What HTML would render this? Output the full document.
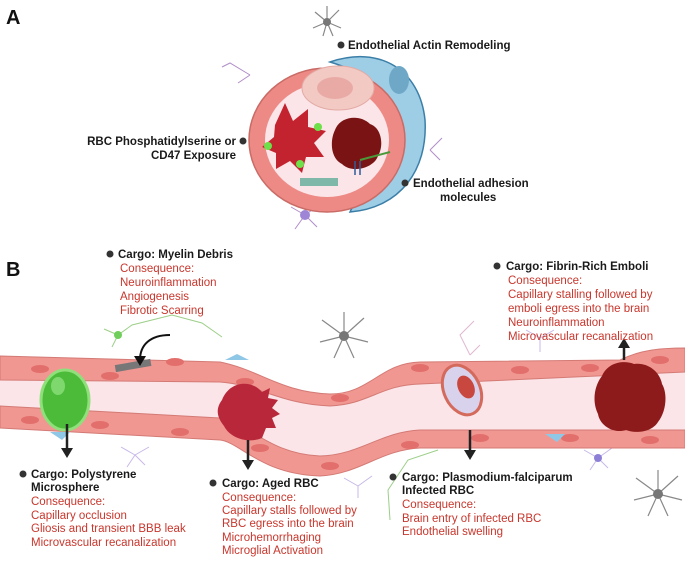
<!DOCTYPE html>
<html><head><meta charset="utf-8"><style>
html,body{margin:0;padding:0;background:#fff;}
svg{display:block;}
text{font-family:"Liberation Sans",sans-serif;}
.b{font-weight:bold;font-size:11.5px;fill:#1a1a1a;}
.r{font-size:11.5px;fill:#c8372d;}
</style></head><body>
<svg width="685" height="565" viewBox="0 0 685 565" xmlns="http://www.w3.org/2000/svg">
<text x="6" y="24" font-size="20" font-weight="bold" fill="#111">A</text>
<text x="6" y="276" font-size="20" font-weight="bold" fill="#111">B</text>

<g stroke="#888" stroke-width="1.2" fill="none">
<path d="M327 22 l-12 -10 M327 22 l12 -12 M327 22 l-14 6 M327 22 l14 6 M327 22 l-4 14 M327 22 l6 14 M327 22 l0 -16"/>
</g>
<circle cx="327" cy="22" r="4" fill="#777"/>
<g stroke="#b08ec8" stroke-width="1" fill="none">
<path d="M305 215 l-14 -8 M305 215 l14 -10 M305 215 l-10 14 M305 215 l12 12 M305 215 l0 -14"/>
<path d="M250 75 l-20 -12 l-8 4 M250 75 l-12 8 M430 150 l12 -12 M430 150 l10 10"/>
</g>
<circle cx="305" cy="215" r="5" fill="#9f85d6"/>

<path d="M330 62 C380 45 420 70 425 120 C428 170 400 208 350 212 C360 190 390 150 385 110 C380 80 350 68 330 62Z" fill="#9ecde6" stroke="#3b7fa8" stroke-width="1.5"/>
<ellipse cx="399" cy="80" rx="10" ry="14" fill="#6fa8c7"/>
<ellipse cx="327" cy="140" rx="78" ry="72" fill="#ee8a85" stroke="#c96b66" stroke-width="1.5"/>
<ellipse cx="327" cy="140" rx="62" ry="57" fill="#fbe5e8"/>
<ellipse cx="338" cy="88" rx="36" ry="22" fill="#f3c9c4" stroke="#e3aaa4"/>
<ellipse cx="335" cy="88" rx="18" ry="11" fill="#e9aaa5"/>
<path d="M275 125 l10 -22 l8 18 l15 -12 l0 18 l18 4 l-12 12 l10 14 l-18 0 l-4 16 l-12 -12 l-14 8 l0 -16 l-14 -6 l12 -10z" fill="#c3232f"/>
<path d="M335 130 c5 -14 25 -16 35 -6 c12 4 14 22 8 32 c-4 12 -26 18 -36 8 c-12 -6 -12 -24 -7 -34z" fill="#7a1414"/>
<circle cx="268" cy="146" r="4" fill="#6ee04a"/><circle cx="318" cy="127" r="4" fill="#6ee04a"/><circle cx="300" cy="164" r="4" fill="#6ee04a"/>
<rect x="300" y="178" width="38" height="8" fill="#7fb8a9"/>
<path d="M360 160 l30 -8" stroke="#4a9a3a" stroke-width="2"/>
<path d="M355 175 l0 -14 M360 175 l0 -14" stroke="#2f5d9a" stroke-width="1.5"/>
<circle cx="341" cy="45" r="3.5" fill="#333"/>
<text class="b" x="348" y="49">Endothelial Actin Remodeling</text>
<text class="b" x="236" y="145" text-anchor="end">RBC Phosphatidylserine or</text>
<text class="b" x="236" y="159" text-anchor="end">CD47 Exposure</text>
<circle cx="243" cy="141" r="3.5" fill="#333"/>
<circle cx="405" cy="183" r="3.5" fill="#333"/>
<text class="b" x="413" y="187">Endothelial adhesion</text>
<text class="b" x="440" y="201">molecules</text>

<g stroke="#888" stroke-width="1.2" fill="none">
<path d="M344 336 l-22 -16 M344 336 l20 -18 M344 336 l-24 6 M344 336 l24 6 M344 336 l-10 22 M344 336 l10 22 M344 336 l0 -24"/>
<path d="M658 494 l-22 -16 M658 494 l20 -18 M658 494 l-24 6 M658 494 l24 6 M658 494 l-10 22 M658 494 l10 22 M658 494 l0 -24"/>
</g>
<circle cx="344" cy="336" r="5" fill="#777"/><circle cx="658" cy="494" r="5" fill="#777"/>
<g stroke="#9ccf88" stroke-width="1" fill="none">
<path d="M118 335 l-14 -6 M118 335 l14 -10 l40 -10 l30 8 l20 14 M118 335 l-6 12 M390 520 l-2 -30 l20 -30 l30 -10"/>
</g>
<circle cx="118" cy="335" r="4" fill="#6fcf5a"/>
<g stroke="#c8b8e8" stroke-width="1" fill="none">
<path d="M135 455 l-14 -8 M135 455 l14 -8 M135 455 l-8 12 M135 455 l10 10 M358 486 l-14 -8 M358 486 l14 -10 M358 486 l0 12 M598 458 l-14 -8 M598 458 l14 -10 M598 458 l-8 12 M598 458 l10 10 M540 338 l-14 -8 M540 338 l14 -8 M540 338 l0 14"/>
<path d="M470 355 l-10 -20 l14 -14 M470 355 l10 -10" stroke="#e0b8d0"/>
</g>
<circle cx="598" cy="458" r="4" fill="#8d7fd6"/>

<path d="M0 378 L220 380 C260 385 280 402 330 404 C370 404 380 385 420 384 L685 372 L685 432 L420 432 C380 432 360 455 320 456 C270 455 250 424 220 420 L0 408Z" fill="#fbe5e8"/>
<path d="M0 356 L220 362 C260 370 280 392 330 394 C370 394 380 363 420 362 L620 360 C640 350 660 348 685 348 L685 372 L420 384 C380 385 370 404 330 406 C280 404 260 385 220 382 L0 380Z" fill="#f19792" stroke="#d47a75" stroke-width="1"/>
<path d="M0 406 L220 418 C250 424 270 454 320 456 C360 455 380 432 420 430 L685 430 L685 448 L420 448 C380 450 360 474 320 476 C260 474 240 442 220 440 L0 428Z" fill="#f19792" stroke="#d47a75" stroke-width="1"/>
<g fill="#e26f6c">
<ellipse cx="40" cy="369" rx="9" ry="4"/><ellipse cx="110" cy="376" rx="9" ry="4"/><ellipse cx="175" cy="362" rx="9" ry="4"/><ellipse cx="245" cy="382" rx="9" ry="4"/><ellipse cx="340" cy="398" rx="9" ry="4"/><ellipse cx="420" cy="368" rx="9" ry="4"/><ellipse cx="520" cy="370" rx="9" ry="4"/><ellipse cx="590" cy="368" rx="9" ry="4"/><ellipse cx="660" cy="360" rx="9" ry="4"/>
<ellipse cx="30" cy="420" rx="9" ry="4"/><ellipse cx="100" cy="425" rx="9" ry="4"/><ellipse cx="180" cy="432" rx="9" ry="4"/><ellipse cx="260" cy="448" rx="9" ry="4"/><ellipse cx="330" cy="466" rx="9" ry="4"/><ellipse cx="410" cy="445" rx="9" ry="4"/><ellipse cx="480" cy="438" rx="9" ry="4"/><ellipse cx="570" cy="438" rx="9" ry="4"/><ellipse cx="650" cy="440" rx="9" ry="4"/>
</g>
<path d="M225 360 l12 -6 l12 6z M50 432 l20 0 l-8 8z M545 434 l20 0 l-8 8z" fill="#8fc7e6"/>
<rect x="115" y="362" width="36" height="7" fill="#777" transform="rotate(-10 133 365)"/>
<path d="M170 335 C150 335 140 345 140 360" stroke="#111" stroke-width="2" fill="none"/>
<path d="M134 356 l6 10 l6 -10z" fill="#111"/>
<ellipse cx="65" cy="400" rx="24" ry="30" fill="#4cbb3a" stroke="#8fe07a" stroke-width="3"/>
<ellipse cx="58" cy="386" rx="7" ry="9" fill="#7fd86e"/>
<path d="M222 400 c8 -20 30 -20 40 -8 l8 -4 l-2 10 l10 2 l-6 8 l8 6 l-8 4 l4 10 l-10 0 l-4 10 c-14 6 -32 0 -38 -12 c-8 -10 -8 -18 -2 -26z" fill="#b8283a"/>
<ellipse cx="462" cy="390" rx="18" ry="26" fill="#d9d2ec" stroke="#d46a5c" stroke-width="3" transform="rotate(-25 462 390)"/>
<ellipse cx="466" cy="387" rx="8" ry="12" fill="#c8473e" transform="rotate(-25 466 387)"/>
<path d="M602 376 c6 -14 22 -16 32 -12 c14 -2 26 8 28 20 c6 10 4 28 -4 38 c-6 10 -22 12 -32 8 c-12 4 -26 -4 -28 -16 c-6 -12 -4 -28 4 -38z" fill="#8e1b1b"/>
<g stroke="#222" stroke-width="2.5">
<line x1="67" y1="424" x2="67" y2="450"/><line x1="248" y1="440" x2="248" y2="462"/><line x1="470" y1="430" x2="470" y2="452"/><line x1="624" y1="360" x2="624" y2="346"/>
</g>
<g fill="#222">
<path d="M61 448 l12 0 l-6 10z M242 460 l12 0 l-6 10z M464 450 l12 0 l-6 10z M618 348 l12 0 l-6 -10z"/>
</g>

<circle cx="110" cy="254" r="3.5" fill="#333"/>
<text class="b" x="118" y="258">Cargo: Myelin Debris</text>
<text class="r" x="120" y="272">Consequence:</text>
<text class="r" x="120" y="286">Neuroinflammation</text>
<text class="r" x="120" y="300">Angiogenesis</text>
<text class="r" x="120" y="314">Fibrotic Scarring</text>

<circle cx="497" cy="266" r="3.5" fill="#333"/>
<text class="b" x="506" y="270">Cargo: Fibrin-Rich Emboli</text>
<text class="r" x="508" y="284">Consequence:</text>
<text class="r" x="508" y="298">Capillary stalling followed by</text>
<text class="r" x="508" y="312">emboli egress into the brain</text>
<text class="r" x="508" y="326">Neuroinflammation</text>
<text class="r" x="508" y="340">Microvascular recanalization</text>

<circle cx="23" cy="474" r="3.5" fill="#333"/>
<text class="b" x="31" y="478">Cargo: Polystyrene</text>
<text class="b" x="31" y="491">Microsphere</text>
<text class="r" x="31" y="505">Consequence:</text>
<text class="r" x="31" y="519">Capillary occlusion</text>
<text class="r" x="31" y="532">Gliosis and transient BBB leak</text>
<text class="r" x="31" y="546">Microvascular recanalization</text>

<circle cx="213" cy="483" r="3.5" fill="#333"/>
<text class="b" x="222" y="487">Cargo: Aged RBC</text>
<text class="r" x="222" y="501">Consequence:</text>
<text class="r" x="222" y="514">Capillary stalls followed by</text>
<text class="r" x="222" y="527">RBC egress into the brain</text>
<text class="r" x="222" y="541">Microhemorrhaging</text>
<text class="r" x="222" y="554">Microglial Activation</text>

<circle cx="393" cy="477" r="3.5" fill="#333"/>
<text class="b" x="402" y="481">Cargo: Plasmodium-falciparum</text>
<text class="b" x="402" y="494">Infected RBC</text>
<text class="r" x="402" y="508">Consequence:</text>
<text class="r" x="402" y="522">Brain entry of infected RBC</text>
<text class="r" x="402" y="535">Endothelial swelling</text>
</svg>
</body></html>
